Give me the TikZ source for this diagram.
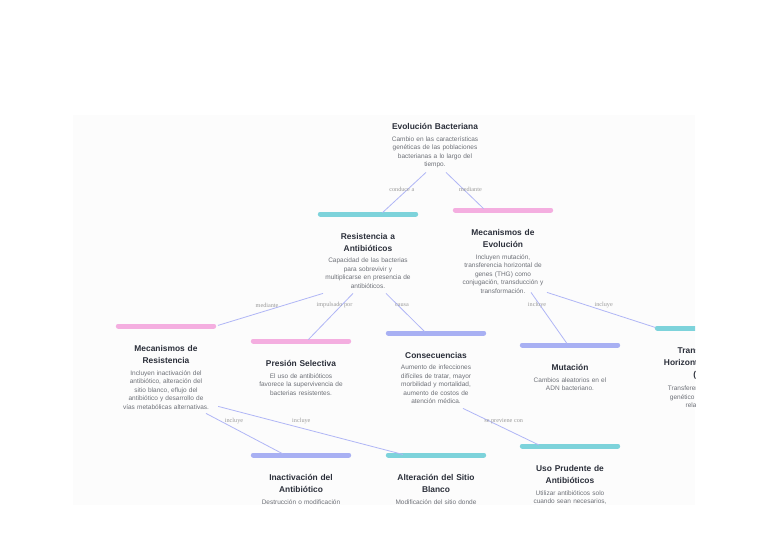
\documentclass[tikz,border=0pt]{standalone}
\usepackage{fontspec}
\setmainfont{Liberation Sans}
\newfontfamily\lblfont{Liberation Serif}
\usetikzlibrary{positioning}
\definecolor{sfondo}{HTML}{FCFCFC}
\definecolor{ink}{HTML}{2B2F3A}
\definecolor{grigio}{HTML}{6E7178}
\definecolor{cy}{HTML}{7DD3DB}
\definecolor{rosa}{HTML}{F4AEE0}
\definecolor{lav}{HTML}{A8B0F3}
\definecolor{linea}{HTML}{B0B6F6}
\definecolor{etich}{HTML}{9A9A9A}

\begin{document}
\begin{tikzpicture}[x=1pt, y=-1pt,
        card/.style={rectangle, minimum width=100pt, inner sep=0pt, anchor=north},
        tab/.style={line width=5pt, line cap=round, shorten <=2.5pt, shorten >=2.5pt},
        ttl/.style={font=\fontsize{8.4}{12}\selectfont\bfseries, text=ink,
            align=center, text width=96pt, inner sep=0pt},
        dsc/.style={font=\fontsize{6.5}{8.5}\selectfont, text=grigio,
            align=center, text width=96pt, inner sep=0pt},
        link/.style={draw=linea, line width=0.8pt, shorten >=2pt},
        lbl/.style={font=\lblfont\fontsize{6.2}{7}\selectfont, text=etich, inner sep=0pt}]
        % Area della mappa (ritagliata)
        \useasboundingbox (0,0) rectangle (768,543);
        \clip (73,115) rectangle (695,505);
        \fill[sfondo] (73,115) rectangle (695,505);

        % Schede: nome/x/y barra/altezza/colore/titolo/descrizione
        \foreach \nm/\px/\py/\hh/\col/\tit/\des in {
                evo/435/104/68/lav/{Evolución Bacteriana}/{Cambio en las características\\genéticas de las poblaciones\\bacterianas a lo largo del\\tiempo.},
                res/368/214/79/cy/{Resistencia a\\Antibióticos}/{Capacidad de las bacterias\\para sobrevivir y\\multiplicarse en presencia de\\antibióticos.},
                mev/503/210/82/rosa/{Mecanismos de\\Evolución}/{Incluyen mutación,\\transferencia horizontal de\\genes (THG) como\\conjugación, transducción y\\transformación.},
                mre/166/326/87/rosa/{Mecanismos de\\Resistencia}/{Incluyen inactivación del\\antibiótico, alteración del\\sitio blanco, eflujo del\\antibiótico y desarrollo de\\vías metabólicas alternativas.},
                pre/301/341/57/rosa/{Presión Selectiva}/{El uso de antibióticos\\favorece la supervivencia de\\bacterias resistentes.},
                con/436/333/75/lav/{Consecuencias}/{Aumento de infecciones\\difíciles de tratar, mayor\\morbilidad y mortalidad,\\aumento de costos de\\atención médica.},
                mut/570/345/50/lav/{Mutación}/{Cambios aleatorios en el\\ADN bacteriano.},
                thg/705/328/84/cy/{Transferencia\\Horizontal de Genes\\(THG)}/{Transferencia de material\\genético entre bacterias\\relacionadas.},
                ina/301/455/60/lav/{Inactivación del\\Antibiótico}/{Destrucción o modificación},
                alt/436/455/60/cy/{Alteración del Sitio\\Blanco}/{Modificación del sitio donde},
                uso/570/446/60/cy/{Uso Prudente de\\Antibióticos}/{Utilizar antibióticos solo\\cuando sean necesarios,}}{
                \node[card, minimum height=\hh pt] (\nm) at (\px,\py) {};
                \draw[tab, draw=\col] (\nm.north west) -- (\nm.north east);
                \node[ttl, below=19pt of \nm.north] (\nm-t) {\tit};
                \node[dsc, below=6.5pt of \nm-t] (\nm-d) {\des};
            }

        % Collegamenti
        \draw[link] ([xshift=-9pt]evo.south) -- ([xshift=13pt]res.north)
        node[lbl, pos=.405, xshift=-6pt] {conduce a};
        \draw[link] ([xshift=11pt]evo.south) -- ([xshift=-18pt]mev.north)
        node[lbl, pos=.447, xshift=7pt] {mediante};
        \draw[link] ([xshift=-45pt]res.south) -- ([xshift=50pt]mre.north)
        node[lbl, pos=.364, xshift=-17pt] {mediante};
        \draw[link] ([xshift=-15pt]res.south) -- ([xshift=6pt]pre.north)
        node[lbl, pos=.25, xshift=-7pt] {impulsado por};
        \draw[link] ([xshift=18pt]res.south) -- ([xshift=-10pt]con.north)
        node[lbl, pos=.3, xshift=4pt] {causa};
        \draw[link] ([xshift=28pt]mev.south) -- ([xshift=-2pt]mut.north)
        node[lbl, pos=.245, xshift=-3pt] {incluye};
        \draw[link] ([xshift=44pt]mev.south) -- ([xshift=-48pt]thg.north)
        node[lbl, pos=.361, xshift=17pt] {incluye};
        \draw[link] ([xshift=40pt]mre.south) -- ([xshift=-16pt]ina.north)
        node[lbl, pos=.19, xshift=13pt] {incluye};
        \draw[link] ([xshift=2pt, yshift=7pt]mre.south east) -- ([xshift=-31pt]alt.north)
        node[lbl, pos=.306, xshift=26pt] {incluye};
        \draw[link] ([xshift=27pt]con.south) -- ([xshift=-29pt]uso.north)
        node[lbl, pos=.342, xshift=14pt] {se previene con};
    \end{tikzpicture}
\end{document}
